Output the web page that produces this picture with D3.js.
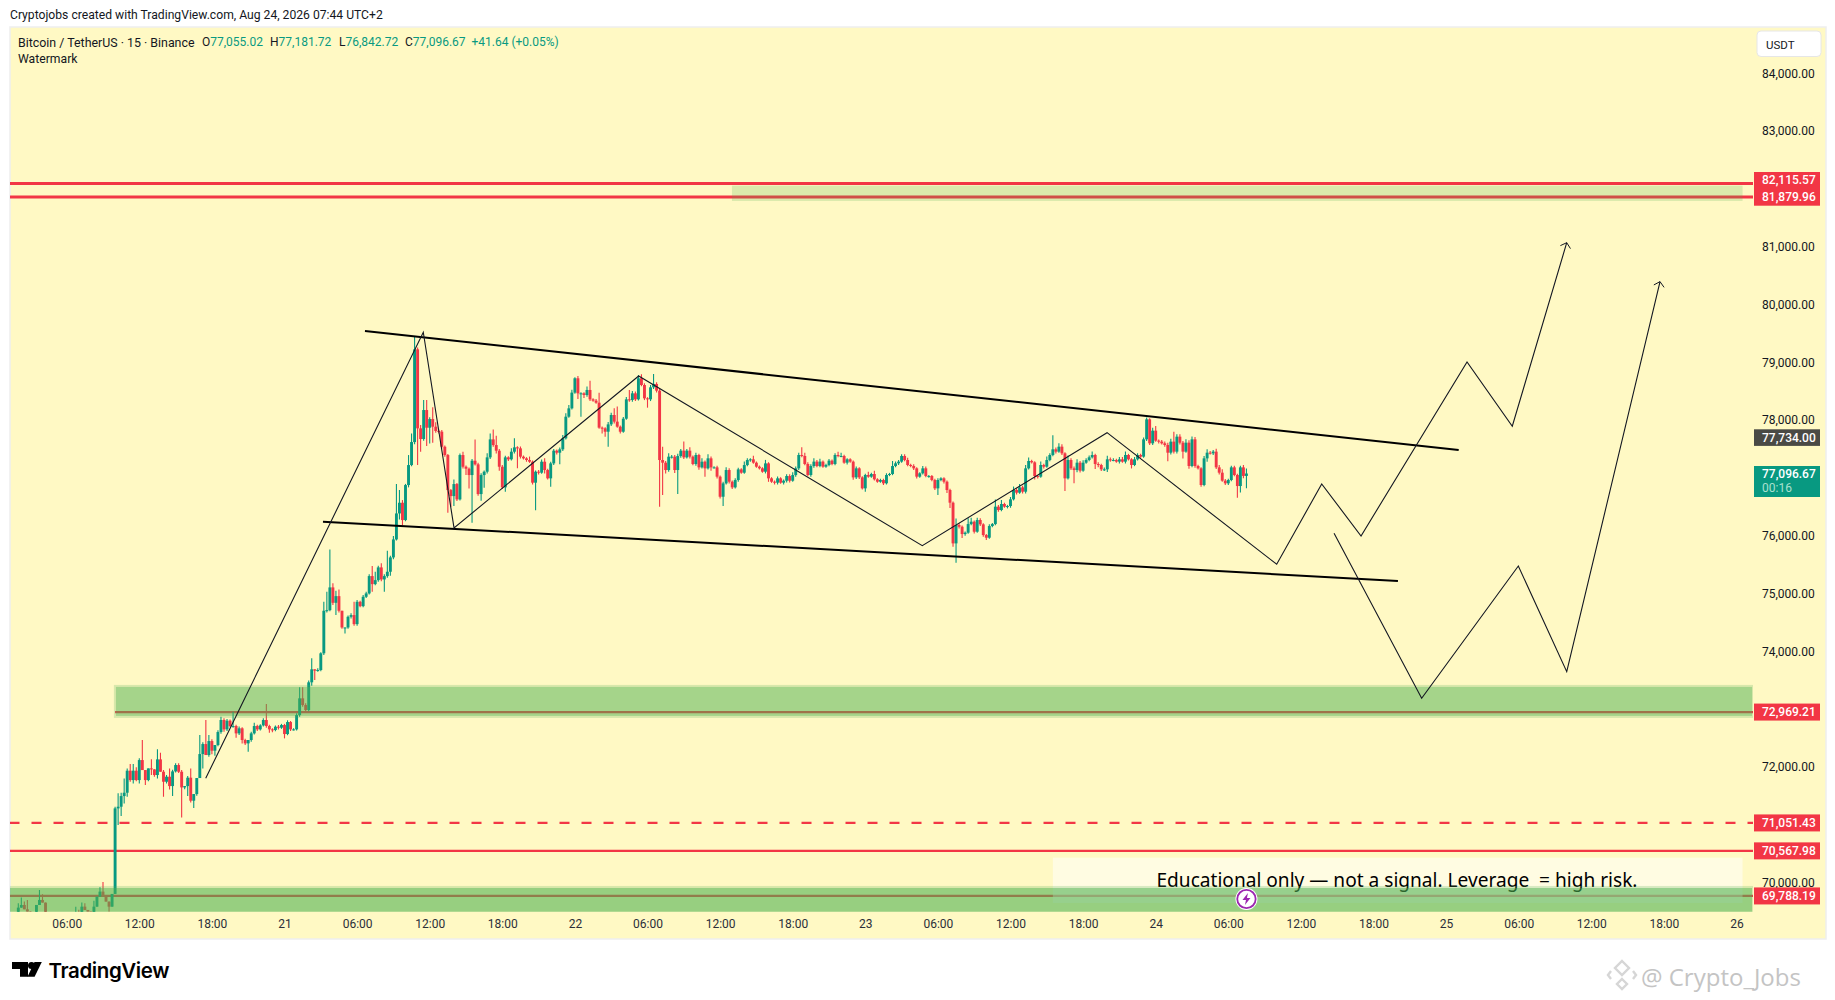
<!DOCTYPE html>
<html><head><meta charset="utf-8">
<script src="https://cdn.jsdelivr.net/npm/d3@7"></script>
<style>html,body{margin:0;padding:0;background:#fff}svg{display:block}text{font-family:Roboto,"Liberation Sans",Arial,sans-serif}</style>
</head><body><svg id="c" width="1835" height="1000"></svg>
<script>
// 15-minute candles starting Aug 20 01:15 (chart time). Open of each bar = previous close.
const firstOpen = 69430;
const closes = [
69420,69400,69430,69586,69632,69557,69517,69459,69450,69632,
69719,69673,69430,69420,69380,69350,69330,69320,69350,69370,
69400,69420,69480,69470,69603,69546,69517,69488,69603,69776,
69863,69776,69690,69603,69823,71303,71332,71516,71574,71955,
71793,71955,71793,72139,71966,71793,71995,71978,71880,72151,
71937,71764,71851,71689,71943,72053,71937,71666,71689,71834,
71436,71551,71828,72243,72416,72226,72468,72301,72399,72624,
72832,72670,72820,72728,72728,72601,72688,72486,72428,72486,
72601,72728,72670,72739,72832,72728,72670,72659,72716,72699,
72745,72589,72797,72670,72670,72918,73207,73091,73005,73484,
73709,73686,73697,73986,74722,74733,75126,74860,74975,74722,
74433,74433,74618,74647,74491,74877,74802,74964,75022,75322,
75183,75252,75472,75264,75322,75397,75645,75956,76406,76591,
76291,76897,77243,77641,79245,77878,77693,78195,77889,78039,
77907,77832,77820,77560,77416,76810,76706,76914,76649,77416,
77214,77180,77070,77318,77255,76741,77070,77128,77376,77687,
77589,77491,77214,76857,77376,77342,77474,77549,77532,77388,
77359,77330,77301,76938,77128,77111,77301,77157,77013,77272,
77492,77457,77515,77705,78080,78224,78496,78744,78484,78484,
78455,78542,78380,78357,78322,77890,77878,77820,77947,78109,
77994,77907,77820,78045,78380,78369,78484,78380,78744,78628,
78397,78380,78588,78646,78530,77330,77284,77157,77388,77388,
77157,77399,77492,77376,77492,77388,77261,77417,77203,77301,
77186,77359,77203,77203,77042,76695,76926,77157,76955,76857,
76984,77168,77111,77243,77330,77342,77284,77215,77186,77128,
77272,77013,76955,76938,77013,76938,76972,77053,76972,77070,
77186,77417,77400,77261,77071,77226,77302,77226,77302,77215,
77244,77319,77261,77417,77400,77400,77284,77342,77302,77030,
77186,77030,76840,77071,77042,77088,76996,76955,76984,76927,
77071,77088,77226,77273,77302,77400,77330,77244,77226,77186,
77042,77100,77186,77053,77053,76984,76840,76984,77013,76955,
76811,76592,75888,76205,76176,76049,76073,76222,76263,76090,
76292,76217,76032,75986,76188,76222,76523,76465,76569,76523,
76534,76650,76811,76765,76857,76782,77186,77313,77290,77053,
77042,77244,77215,77330,77417,77515,77475,77561,77446,77013,
77330,77186,77157,77284,77146,77284,77330,77377,77417,77261,
77244,77169,77169,77342,77330,77330,77302,77342,77302,77417,
77342,77244,77342,77417,77388,77688,78034,77619,77838,77665,
77648,77619,77590,77457,77648,77475,77734,77630,77475,77630,
77227,77688,77227,77186,76898,77359,77457,77446,77475,77203,
77111,76973,76927,76984,77203,77071,76880,77203,77055,77096.67];
const upperWicks = [
0,0,0,75,130,58,160,0,0,0,
170,100,0,0,0,0,0,0,0,0,
0,0,120,70,70,60,0,0,104,0,
75,167,0,0,0,30,231,58,248,40,
115,115,58,30,346,0,0,156,0,173,
115,30,30,144,30,30,30,30,0,30,
160,0,0,329,30,415,104,30,0,30,
58,30,30,20,248,20,30,20,20,0,
30,58,20,20,30,277,20,20,20,30,
20,20,30,20,20,30,190,190,30,30,
190,0,30,20,156,317,658,70,92,115,
0,0,20,30,231,30,20,30,30,30,
173,144,30,70,30,363,30,58,508,219,
46,20,173,150,231,30,58,173,173,30,
202,75,20,30,20,20,20,81,20,29,
58,20,20,30,369,30,30,20,70,104,
173,160,30,30,30,20,60,156,20,30,
20,20,60,20,20,30,40,58,20,30,
30,20,30,60,60,60,50,20,40,20,
20,60,160,20,30,173,20,20,40,40,
115,260,20,30,40,160,40,30,58,70,
30,20,40,173,30,30,230,30,60,30,
30,40,30,160,30,60,20,40,20,60,
20,70,30,20,30,20,30,50,30,20,
30,30,20,60,30,20,60,20,20,20,
60,20,20,20,30,20,20,30,30,50,
30,40,133,58,30,30,58,30,50,20,
20,30,20,30,58,58,20,20,20,20,
30,20,20,20,58,20,58,20,20,20,
30,20,87,30,30,30,30,40,20,30,
20,20,40,30,20,20,20,30,20,20,
20,20,20,115,30,20,20,100,70,20,
40,30,20,20,30,20,125,30,70,20,
20,40,60,30,60,30,60,60,20,20,
20,60,20,60,30,242,30,60,40,20,
80,30,30,60,30,40,30,30,60,20,
30,20,30,60,30,30,20,40,40,60,
20,20,40,30,20,30,30,20,50,80,
20,30,30,40,50,173,40,40,30,60,
40,50,40,20,20,40,58,30,30,50,
40,60,30,20,30,30,20,30,40,85];
const lowerWicks = [
0,0,0,0,0,0,0,0,0,0,
0,0,0,0,0,0,0,0,0,0,
0,0,0,0,0,0,0,0,0,0,
0,0,0,87,0,0,289,160,127,70,
30,58,20,58,0,87,20,98,30,60,
0,260,30,60,173,20,20,519,30,173,
30,127,30,0,248,0,30,60,87,20,
30,40,30,20,30,75,30,60,30,144,
30,20,30,20,20,30,60,40,20,30,
20,75,20,30,20,20,30,30,20,20,
60,160,20,20,30,30,20,40,213,30,
20,104,20,30,30,30,20,20,20,20,
132,20,30,30,213,30,70,30,20,104,
87,20,40,20,40,635,219,30,317,271,
277,30,30,30,30,392,185,173,30,20,
30,110,231,825,20,30,115,219,30,30,
30,50,70,30,75,30,20,30,346,30,
20,30,20,30,479,30,20,60,20,144,
30,30,202,30,20,20,20,20,100,404,
50,30,30,20,20,20,87,87,260,30,
30,20,30,20,20,30,30,30,20,20,
30,144,30,30,30,808,560,60,30,30,
50,415,30,30,20,30,20,30,40,20,
144,20,60,20,30,30,160,20,30,30,
20,30,20,20,20,30,20,20,20,20,
30,60,20,30,30,20,30,30,30,20,
30,30,20,20,20,30,30,20,20,20,
20,20,20,20,20,20,20,30,20,40,
30,30,20,58,20,20,20,20,20,30,
20,20,20,20,30,20,20,20,20,30,
30,20,20,20,30,20,30,115,20,30,
50,90,60,335,30,70,30,20,20,30,
20,30,30,40,20,20,20,30,20,20,
30,30,20,30,20,30,30,20,20,60,
30,20,30,20,20,20,30,20,30,219,
20,30,230,40,30,20,20,20,20,87,
40,30,30,46,30,20,20,30,20,30,
20,60,20,20,20,20,30,30,30,20,
30,20,30,150,30,30,30,30,120,20,
50,20,30,20,30,20,60,20,30,30,
30,20,30,30,20,20,202,110,40,213];

const priceTicks = [84000,83000,81000,80000,79000,78000,76000,75000,74000,72000,70000];
const timeTickHours = [-18,-12,-6,0,6,12,18,24,30,36,42,48,54,60,66,72,78,84,90,96,102,108,114,120];
const dayLabels = {0:"21",24:"22",48:"23",72:"24",96:"25",120:"26"};
const hourLabels = {0:"00:00",6:"06:00",12:"12:00",18:"18:00"};

// horizontal levels: price, dashed?, start hour
const levelPrices = [82115.57,81879.96,72969.21,71051.43,70567.98,69788.19];
const levelDashed = [false,false,false,true,false,false];
const levelStart = [-30,-30,-14,-30,-30,-30];
// Hand-drawn annotations [hours since Aug 21 00:00, price]
const channelTop = [[6.65,79563],[97.04,77504]];
const channelBottom = [[3.18,76264],[92.02,75238]];
const pathUp = [[-6.51,71824],[11.47,79540],[14.01,76155],[29.27,78784],[52.71,75848],[67.98,77803],[82.0,75526],[85.72,76916],[88.97,76016],[97.73,79026],[101.47,77914],[105.97,81090]];
const pathDown = [[86.74,76063],[93.98,73208],[101.97,75497],[105.97,73669],[113.68,80416]];
// zones: [start hour, end hour, top price, bottom price]
const zoneUpper = [36.98,120.5,82077,81812];
const zoneMiddle = [-14.1,121.45,73439,72868];
const zoneLower = [-30,121.45,69961,69300];
const noteBox = [63.5,120.5,70451,69667];

const GREEN="#089981", RED="#f23645", INK="#131722";
const svg=d3.select("#c");
const t0=Date.UTC(2026,7,21);
const hToDate=h=>new Date(t0+h*3600000);
const x=d3.scaleUtc().domain([hToDate(-24),hToDate(120)]).range([-5.9,1736.5]);
const y=d3.scaleLinear().domain([84000,69000]).range([74.5,941.5]);
const X=h=>x(hToDate(h));
const PL=10,PR=1753,PT=28,PB=911.7;

svg.append("rect").attr("x",10).attr("y",27).attr("width",1816).attr("height",912).attr("fill","#fff9c4").attr("stroke","#eeeeee").attr("stroke-width",1.5);
const defs=svg.append("defs");
defs.append("clipPath").attr("id","plot").append("rect").attr("x",PL).attr("y",PT).attr("width",PR-PL).attr("height",PB-PT);
const plot=svg.append("g").attr("clip-path","url(#plot)");

// levels
plot.selectAll(".lvl").data(levelPrices).join("line").attr("class","lvl")
 .attr("x1",(d,i)=>X(levelStart[i])).attr("x2",PR).attr("y1",d=>y(d)).attr("y2",d=>y(d))
 .attr("stroke",RED).attr("stroke-width",(d,i)=>i<2?3:2.3)
 .attr("stroke-dasharray",(d,i)=>levelDashed[i]?"10 12":null);

// note box and text sit under the zones
plot.append("rect").attr("x",X(noteBox[0])).attr("width",X(noteBox[1])-X(noteBox[0])).attr("y",y(noteBox[2])).attr("height",y(noteBox[3])-y(noteBox[2])).attr("fill","rgba(255,255,255,0.5)");
plot.append("text").attr("x",1397).attr("y",879.5).attr("text-anchor","middle").attr("dominant-baseline","central")
 .style("font-family","'Noto Sans',sans-serif").attr("font-size",19.1).attr("fill","#000")
 .style("white-space","pre").text("Educational only — not a signal. Leverage  = high risk.");

// candles
const bars=closes.map((c,i)=>{
 const o=i?closes[i-1]:firstOpen;
 return {t:new Date(Date.UTC(2026,7,20,1,15)+i*900000),o,c,h:Math.max(o,c)+upperWicks[i],l:Math.min(o,c)-lowerWicks[i]};
});
const g=plot.append("g");
g.selectAll(".w").data(bars).join("line").attr("class","w")
 .attr("x1",d=>x(d.t)).attr("x2",d=>x(d.t)).attr("y1",d=>y(d.h)).attr("y2",d=>y(d.l))
 .attr("stroke",d=>d.c>=d.o?GREEN:RED).attr("stroke-width",1.1);
g.selectAll(".b").data(bars).join("rect").attr("class","b")
 .attr("x",d=>x(d.t)-1.45).attr("width",2.9)
 .attr("y",d=>y(Math.max(d.o,d.c))).attr("height",d=>Math.max(1,Math.abs(y(d.o)-y(d.c))))
 .attr("fill",d=>d.c>=d.o?GREEN:RED);

// zones: lighter 2px band, then core
function zone(z,coreAlpha,band){
 const x0=X(z[0]),x1=X(z[1]),y0=y(z[2]),y1=y(z[3]);
 if(band){
  plot.append("rect").attr("x",x0+1).attr("y",y0+1).attr("width",x1-x0-2).attr("height",y1-y0-2)
   .attr("fill","none").attr("stroke","rgba(76,175,80,0.22)").attr("stroke-width",2);
  plot.append("rect").attr("x",x0+2).attr("y",y0+2).attr("width",x1-x0-4).attr("height",y1-y0-4).attr("fill",`rgba(76,175,80,${coreAlpha})`);
 } else {
  plot.append("rect").attr("x",x0).attr("y",y0).attr("width",x1-x0).attr("height",y1-y0).attr("fill",`rgba(76,175,80,${coreAlpha})`);
 }
}
zone(zoneUpper,0.2,false);
zone(zoneMiddle,0.5,true);
zone(zoneLower,0.58,true);

// annotations
const ln=d3.line().x(d=>X(d[0])).y(d=>y(d[1]));
[channelTop,channelBottom].forEach(d=>svg.append("path").attr("d",ln(d)).attr("fill","none").attr("stroke","#000").attr("stroke-width",2));
function arrow(d,w){
 svg.append("path").attr("d",ln(d)).attr("fill","none").attr("stroke",INK).attr("stroke-width",w).attr("stroke-linejoin","miter");
 const a=d[d.length-2],b=d[d.length-1];
 const ax=X(a[0]),ay=y(a[1]),bx=X(b[0]),by=y(b[1]);
 const th=Math.atan2(by-ay,bx-ax),L=7,sp=0.85;
 const pt=s=>[bx-L*Math.cos(th+s),by-L*Math.sin(th+s)];
 svg.append("path").attr("d",d3.line()([pt(sp),[bx,by],pt(-sp)])).attr("fill","none").attr("stroke",INK).attr("stroke-width",1);
}
arrow(pathUp,1.1); arrow(pathDown,1.1);

// lightning badge
const bx=x(bars[bars.length-1].t), by=899;
svg.append("circle").attr("cx",bx).attr("cy",by).attr("r",11).attr("fill","#fff");
svg.append("circle").attr("cx",bx).attr("cy",by).attr("r",9.2).attr("fill","#fff").attr("stroke","#9c27b0").attr("stroke-width",1.8);
svg.append("path").attr("transform",`translate(${bx},${by})`).attr("d","M1.5,-6 L-4,1 L-0.5,1 L-1.5,6 L4,-1 L0.5,-1 Z").attr("fill","#9c27b0");

// axes
const yAxis=d3.axisRight(y).tickValues(priceTicks).tickSize(0).tickPadding(0).tickFormat(d3.format(",.2f"));
const ya=svg.append("g").attr("transform","translate(1762,-1.2)").call(yAxis);
ya.select(".domain").remove();
ya.selectAll("text").attr("font-size",12).attr("fill",INK).style("font-family","Roboto,sans-serif");
const xAxis=d3.axisBottom(x).tickValues(timeTickHours.map(hToDate)).tickSize(0).tickPadding(0)
 .tickFormat(d=>{const h=(d-t0)/3600000;return dayLabels[h]||hourLabels[((h%24)+24)%24];});
const xa=svg.append("g").attr("transform","translate(0,919)").call(xAxis);
xa.select(".domain").remove();
xa.selectAll("text").attr("font-size",12).attr("fill","#2a2e39").style("font-family","Roboto,sans-serif");

// price labels
function tag(y0,h,fill){svg.append("rect").attr("x",1754).attr("width",66).attr("y",y0).attr("height",h).attr("fill",fill);}
function ttxt(s,cy,fill,w){svg.append("text").attr("x",1762).attr("y",cy).attr("dominant-baseline","central").attr("font-size",12).attr("font-weight",w||400).attr("fill",fill||"#fff").text(s);}
const fmt=d3.format(",.2f");
tag(172,33.7,RED);
ttxt(fmt(levelPrices[0]),180,"#fff",500);
ttxt(fmt(levelPrices[1]),197,"#fff",500);
[2,3,4,5].forEach(i=>{const c=y(levelPrices[i]);tag(c-8.5,17,RED);ttxt(fmt(levelPrices[i]),c,"#fff",500);});
tag(429.3,16.6,"#4a4a45");ttxt(fmt(77734),437.5,"#fff",500);
tag(466,31,GREEN);ttxt(fmt(closes[closes.length-1]),473.5,"#fff",500);ttxt("00:16",487.5,"#a9e0cf",400);

// USDT
svg.append("rect").attr("x",1757).attr("y",31).attr("width",64).attr("height",25.5).attr("rx",4).attr("fill","#fff").attr("stroke","#e6e6e6");
svg.append("text").attr("x",1766).attr("y",44.5).attr("dominant-baseline","central").attr("font-size",11.5).attr("fill",INK).text("USDT");

// header
svg.append("text").attr("x",10).attr("y",15).attr("dominant-baseline","central").attr("font-size",12.15).attr("fill",INK).text("Cryptojobs created with TradingView.com, Aug 24, 2026 07:44 UTC+2");
svg.append("text").attr("x",18).attr("y",42).attr("dominant-baseline","central").attr("font-size",12.4).attr("fill",INK).text("Bitcoin / TetherUS · 15 · Binance");
const LEG=[["O","77,055.02",202],["H","77,181.72",270],["L","76,842.72",339],["C","77,096.67",405]];
LEG.forEach(l=>{const t=svg.append("text").attr("x",l[2]).attr("y",42).attr("dominant-baseline","central").attr("font-size",12).attr("fill",INK);
 t.append("tspan").text(l[0]);t.append("tspan").attr("fill",GREEN).text(l[1]);});
svg.append("text").attr("x",471.5).attr("y",42).attr("dominant-baseline","central").attr("font-size",12).attr("fill",GREEN).text("+41.64 (+0.05%)");
svg.append("text").attr("x",18).attr("y",59).attr("dominant-baseline","central").attr("font-size",12.2).attr("fill",INK).text("Watermark");

// TradingView logo
const lg=svg.append("g").attr("fill","#000");
lg.append("path").attr("d","M12,962 H28 V976.7 H20 V969 H12 Z");
lg.append("circle").attr("cx",31.5).attr("cy",965.5).attr("r",3.5);
lg.append("path").attr("d","M34.5,962 H41.8 L34.6,976.7 H27.5 Z");
svg.append("text").attr("x",48.5).attr("y",970).attr("dominant-baseline","central").style("font-family","Inter,sans-serif").attr("font-size",20.5).attr("font-weight",600).attr("letter-spacing",-0.4).attr("fill","#000").text("TradingView");

// watermark
const wm=svg.append("g").attr("fill","none").attr("stroke","#d6d6d6").attr("stroke-width",2.4);
wm.append("path").attr("d","M1622,961 L1629,968 L1622,975 L1615,968 Z");
wm.append("path").attr("d","M1611,971 L1608,975 L1611,979 M1633,971 L1636,975 L1633,979 M1622,979 L1627,984 L1622,989 L1617,984 Z");
svg.append("text").attr("x",1641).attr("y",976).attr("dominant-baseline","central").style("font-family","'Open Sans',sans-serif").attr("font-size",24).attr("font-weight",400).attr("fill","#c4c4c4").text("@ Crypto_Jobs");
</script></body></html>
